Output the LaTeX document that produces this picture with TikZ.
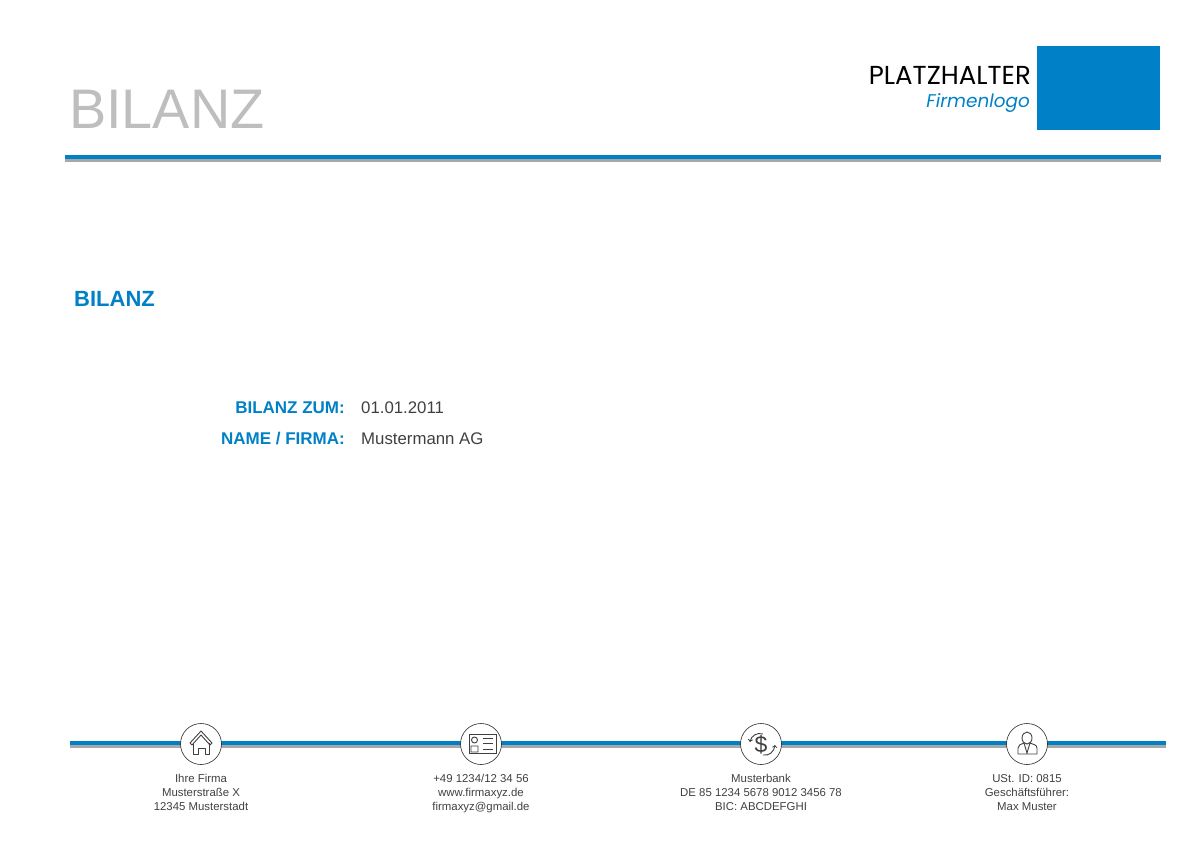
\documentclass[tikz,border=0pt]{standalone}
\usepackage{fontspec}
\setmainfont{Liberation Sans}
\newfontfamily\logofont{Poppins}
\definecolor{firmblue}{HTML}{0080C6}
\definecolor{titlegray}{HTML}{BEBEBE}
\definecolor{rulegray}{HTML}{A8A8A8}
\definecolor{textgray}{HTML}{404040}
\tikzset{
    iconring/.style={circle,draw=black!85,line width=0.6pt,fill=white,minimum size=41pt,inner sep=0pt},
    iconline/.style={draw=textgray,line width=0.9pt},
    footertext/.style={align=center,anchor=north,inner sep=0pt,text=textgray,execute at begin node=\strut,font=\fontsize{11.4}{14}\selectfont},
    tablelabel/.style={anchor=east,inner sep=0pt,text=firmblue,font=\fontsize{17}{18}\selectfont\bfseries},
    tablevalue/.style={anchor=west,inner sep=0pt,text=textgray,font=\fontsize{16.8}{18}\selectfont}
}
\begin{document}
\begin{tikzpicture}[x=1pt,y=-1pt]
\useasboundingbox (0,0) rectangle (1200,848);
% header
\node[anchor=base west,inner sep=0pt,text=titlegray,font=\fontsize{55.8}{60}\selectfont] (title) at (69,129) {BILANZ};
\node[anchor=base east,inner sep=0pt,text=black,font=\fontsize{26}{28}\selectfont\logofont] (logotext) at (1031,85) {PLATZHALTER};
\node[anchor=base east,inner sep=0pt,text=firmblue,font=\fontsize{18.4}{22}\selectfont\logofont\itshape] (logosub) at (1030,108) {Firmenlogo};
\fill[firmblue] (1037,46) rectangle (1160,130);
\fill[rulegray] (65,159) rectangle (1161,162);
\fill[firmblue] (65,155) rectangle (1161,159);
% body
\node[anchor=base west,inner sep=0pt,text=firmblue,font=\fontsize{22}{24}\selectfont\bfseries] (heading) at (74,306) {BILANZ};
\node[tablelabel] (datelabel) at (345,408) {BILANZ ZUM:};
\node[tablevalue] (datevalue) at (361,408) {01.01.2011};
\node[tablelabel] (namelabel) at (345,439) {NAME / FIRMA:};
\node[tablevalue] (namevalue) at (361,439) {Mustermann AG};
% footer rule
\fill[rulegray] (70,745) rectangle (1166,748);
\fill[firmblue] (70,740.5) rectangle (1166,745);
% footer columns
\node[iconring] (house) at (201,744) {};
\node[iconring] (card) at (481,744) {};
\node[iconring] (bank) at (761,744) {};
\node[iconring] (person) at (1027,744) {};
\node[footertext] (housetext) at (201,774) {Ihre Firma\\Musterstraße X\\12345 Musterstadt};
\node[footertext] (cardtext) at (481,774) {+49 1234/12 34 56\\www.firmaxyz.de\\firmaxyz@gmail.de};
\node[footertext] (banktext) at (761,774) {Musterbank\\DE 85 1234 5678 9012 3456 78\\BIC: ABCDEFGHI};
\node[footertext] (persontext) at (1027,774) {USt. ID: 0815\\Geschäftsführer:\\Max Muster};
% icons
\draw[iconline,line join=round] (190,743) -- (201,731) -- (212,743) -- (210,745) -- (201,735) -- (192,745) -- cycle;
\draw[iconline,line join=round] (193.5,743) -- (193.5,754) -- (198,754) -- (198,748) -- (205,748) -- (205,754) -- (209,754) -- (209,743);
\draw[iconline] (469,734) rectangle (496,753);
\draw[iconline] (474.5,740) circle (3) (471,746) rectangle (478,752);
\draw[iconline] (483,738) -- (493,738) (483,743) -- (493,743) (483,749) -- (493,749);
\node[inner sep=0pt,text=textgray,font=\fontsize{23}{24}\selectfont] (dollar) at (761,745) {\$};
\draw[iconline,->] (763,734) .. controls (757,732) and (751,736) .. (750,742);
\draw[iconline,->] (763,755) .. controls (769,756) and (774,752) .. (775,745);
\draw[iconline] (1027,738) ellipse (5 and 6);
\draw[iconline,line join=round] (1018,754) -- (1018,748) .. controls (1018,745) and (1021,744) .. (1024,743) -- (1027,753) -- (1030,743) .. controls (1033,744) and (1037,745) .. (1037,748) -- (1037,754) -- cycle;
\end{tikzpicture}
\end{document}
